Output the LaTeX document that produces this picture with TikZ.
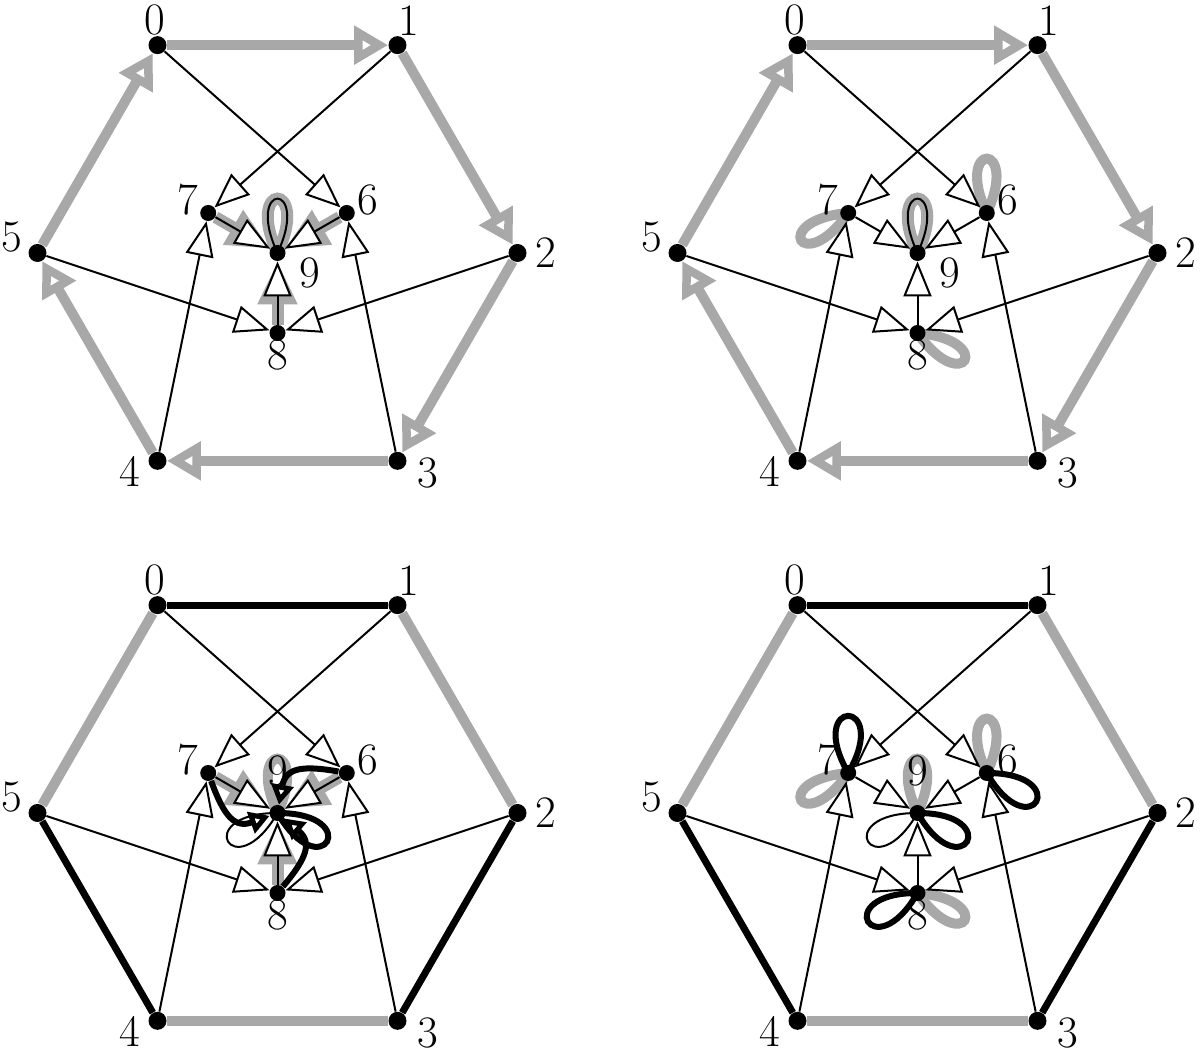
\documentclass[tikz,border=0pt]{standalone}
\usepackage{fontspec}
\usetikzlibrary{arrows.meta,calc}
\pgfdeclarelayer{bg}
\pgfsetlayers{bg,main}
\definecolor{hl}{RGB}{168,168,168}
\tikzset{
  dot/.style={circle,fill=black,inner sep=0pt,minimum size=9pt},
  idot/.style={circle,fill=black,inner sep=0pt,minimum size=8pt},
  lbl/.style={font=\fontsize{22.5}{27}\selectfont,inner sep=0pt},
  thinarr/.style={line width=1pt,-{Triangle[length=17.5pt,width=14pt,fill=white]}},
  halo/.style={hl,line width=6pt,-{Triangle[length=21.5pt,width=18.5pt]}},
  hexarr/.style={hl,line width=5pt,-{Triangle[length=17pt,width=18.5pt,fill=white]}},
  hexgray/.style={hl,line width=5pt},
  hexblack/.style={line width=3.5pt},
  thinloop/.style={line width=1pt},
  haloloop/.style={hl,line width=6pt},
  grayloop/.style={hl,line width=5pt},
  blackloop/.style={line width=3pt},
  curvearr/.style={line width=3pt,-{Triangle[length=10pt,width=11pt,fill=white]}},
}
\newcommand\lp[3]{\draw[#3] (#1.center) .. controls +({#2+25}:80) and +({#2-25}:80) .. (#1.center);}
\newcommand\blp[3]{\draw[#3] (#1.center) .. controls +({#2+30}:88) and +({#2-30}:88) .. (#1.center);}
\newcommand\mknodes[2]{%
  \node[dot] (#10) at (120:240) {};
  \node[dot] (#11) at (60:240) {};
  \node[dot] (#12) at (0:240) {};
  \node[dot] (#13) at (-60:240) {};
  \node[dot] (#14) at (-120:240) {};
  \node[dot] (#15) at (180:240) {};
  \node[idot] (#16) at (30:80) {};
  \node[idot] (#17) at (150:80) {};
  \node[idot] (#18) at (270:80) {};
  \node[idot] (#19) at (0,0) {};
  \node[lbl] (#1l0) at ($(120:240)+(-3,25)$) {0};
  \node[lbl] (#1l1) at ($(60:240)+(11,25)$) {1};
  \node[lbl] (#1l2) at ($(0:240)+(28,0)$) {2};
  \node[lbl] (#1l3) at ($(-60:240)+(30,-12)$) {3};
  \node[lbl] (#1l4) at ($(-120:240)+(-28,-11)$) {4};
  \node[lbl] (#1l5) at ($(180:240)+(-26,16)$) {5};
  \node[lbl] (#1l6) at ($(30:80)+(21,13)$) {6};
  \node[lbl] (#1l7) at ($(150:80)+(-20,13)$) {7};
  \node[lbl] (#1l8) at ($(270:80)+(0,-22)$) {8};
  \ifnum#2=0 \node[lbl] (#1l9) at (32,-20) {9};\else \node[lbl] (#1l9) at (0,42) {9};\fi
}
\newcommand\thinedges[1]{%
  \draw[thinarr] (#10) -- (#16);
  \draw[thinarr] (#11) -- (#17);
  \draw[thinarr] (#12) -- (#18);
  \draw[thinarr] (#15) -- (#18);
  \draw[thinarr] (#14) -- (#17);
  \draw[thinarr] (#13) -- (#16);
  \draw[thinarr] (#17) -- (#19);
  \draw[thinarr] (#16) -- (#19);
  \draw[thinarr] (#18) -- (#19);
}
\newcommand\haloedges[1]{%
  \draw[halo] (#17) -- (#19);
  \draw[halo] (#16) -- (#19);
  \draw[halo] (#18) -- (#19);
}
\newcommand\hexarrows[1]{%
  \draw[hexarr] (#10) -- (#11);
  \draw[hexarr] (#11) -- (#12);
  \draw[hexarr] (#12) -- (#13);
  \draw[hexarr] (#13) -- (#14);
  \draw[hexarr] (#14) -- (#15);
  \draw[hexarr] (#15) -- (#10);
}
\newcommand\hexmixed[1]{%
  \draw[hexgray] (#11) -- (#12);
  \draw[hexgray] (#13) -- (#14);
  \draw[hexgray] (#15) -- (#10);
  \draw[hexblack] (#10) -- (#11);
  \draw[hexblack] (#12) -- (#13);
  \draw[hexblack] (#14) -- (#15);
}
\begin{document}
\begin{tikzpicture}[x=0.5pt,y=0.5pt]
\useasboundingbox (0,0) rectangle (1200,1054);
\begin{scope}[shift={(277.5,801)}]\mknodes{a}{0}\end{scope}
\begin{scope}[shift={(917.5,801)}]\mknodes{b}{0}\end{scope}
\begin{scope}[shift={(277.5,241)}]\mknodes{c}{1}\end{scope}
\begin{scope}[shift={(917.5,241)}]\mknodes{d}{1}\end{scope}
\begin{pgfonlayer}{bg}
  % panel 1
  \haloedges{a}
  \lp{a9}{90}{haloloop}
  \hexarrows{a}
  \thinedges{a}
  \lp{a9}{90}{thinloop}
  % panel 2
  \lp{b9}{90}{haloloop}
  \lp{b6}{90}{grayloop}
  \lp{b7}{210}{grayloop}
  \lp{b8}{330}{grayloop}
  \hexarrows{b}
  \thinedges{b}
  \lp{b9}{90}{thinloop}
  % panel 3
  \haloedges{c}
  \lp{c9}{90}{grayloop}
  \hexmixed{c}
  \thinedges{c}
  \blp{c9}{210}{thinloop}
  \blp{c9}{330}{blackloop}
  \draw[curvearr] (c7) to[out=-70,in=200,looseness=1.4] (c9);
  \draw[curvearr] (c6) to[out=170,in=80,looseness=1.4] (c9);
  \draw[curvearr] (c8) to[out=50,in=-40,looseness=1.4] (c9);
  % panel 4
  \lp{d9}{90}{grayloop}
  \lp{d6}{90}{grayloop}
  \lp{d7}{210}{grayloop}
  \lp{d8}{330}{grayloop}
  \hexmixed{d}
  \thinedges{d}
  \blp{d9}{210}{thinloop}
  \blp{d9}{330}{blackloop}
  \blp{d7}{90}{blackloop}
  \blp{d6}{330}{blackloop}
  \blp{d8}{210}{blackloop}
\end{pgfonlayer}
\end{tikzpicture}
\end{document}
